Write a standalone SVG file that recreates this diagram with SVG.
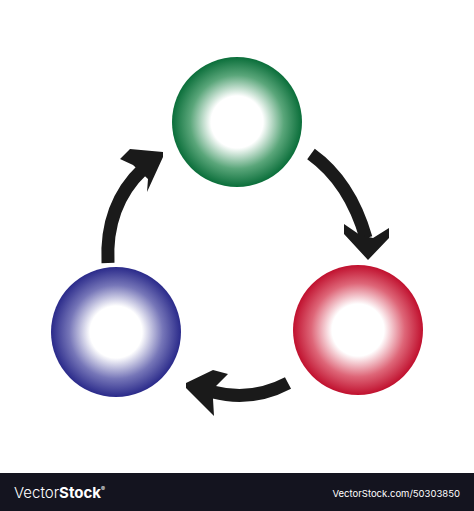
<svg xmlns="http://www.w3.org/2000/svg" width="474" height="511" viewBox="0 0 474 511">
<defs>
<radialGradient id="gG"><stop offset="0.4" stop-color="#ffffff"/><stop offset="0.72" stop-color="#5aa67a"/><stop offset="1" stop-color="#0a6e3a"/></radialGradient>
<radialGradient id="gR"><stop offset="0.4" stop-color="#ffffff"/><stop offset="0.72" stop-color="#de6678"/><stop offset="1" stop-color="#c0102e"/></radialGradient>
<radialGradient id="gB"><stop offset="0.4" stop-color="#ffffff"/><stop offset="0.72" stop-color="#7676b8"/><stop offset="1" stop-color="#2a2a8a"/></radialGradient>
<style>
.shaft{fill:none;stroke:#1a1a1a;stroke-width:13}
.head{fill:#1a1a1a}
</style>
</defs>
<rect width="474" height="511" fill="#ffffff"/>
<g id="node-green"><circle cx="237" cy="122" r="65" fill="url(#gG)"/></g>
<g id="node-red"><circle cx="358" cy="330" r="65" fill="url(#gR)"/></g>
<g id="node-blue"><circle cx="116" cy="332" r="65" fill="url(#gB)"/></g>
<g id="connectors">
<path class="shaft" d="M108 263 Q105 205 143 169"/>
<polygon class="head" points="130,149 163,152 163,157 147,192 148,179 133,165 120,159"/>
<path class="shaft" d="M311 154 Q350 182 366 238"/>
<polygon class="head" points="344,224 360,235 373,238 389,228 389,238 368,260 344,234"/>
<path class="shaft" d="M288 383 Q252 402 213 392"/>
<polygon class="head" points="186,383 213,370 228,374 215,387 213,399 214,416 186,388"/>
</g>
<g id="footer">
<rect x="0" y="473" width="474" height="38" fill="#14141f"/>
<text x="14" y="498" font-family="Inter, 'Liberation Sans', sans-serif" font-size="15" fill="#ffffff"><tspan font-weight="300">Vector</tspan><tspan font-weight="700">Stock</tspan><tspan font-size="6" dy="-7">®</tspan></text>
<text x="460" y="497" text-anchor="end" font-family="Inter, 'Liberation Sans', sans-serif" font-size="9.5" fill="#ffffff">VectorStock.com/50303850</text>
</g>
</svg>
